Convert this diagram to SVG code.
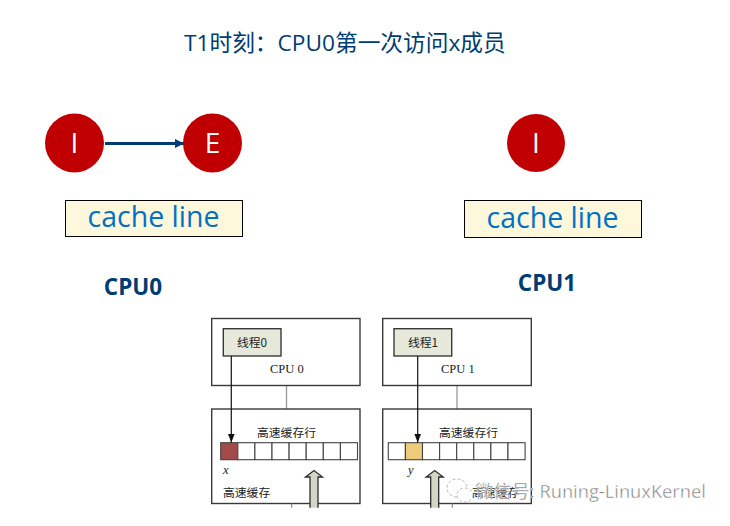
<svg xmlns="http://www.w3.org/2000/svg" width="730" height="526" viewBox="0 0 730 526">
<style>
.title{font-size:22.700px;fill:#003c71;font-family:"Open Sans","Noto Sans CJK SC",sans-serif}
.st{fill:#c00000}
.stt{fill:#fff;font-size:28px;text-anchor:middle;font-family:"Open Sans",sans-serif}
.cl{fill:#fdf7dc;stroke:#000;stroke-width:1}
.clt{fill:#0071c5;font-size:28.500px;text-anchor:middle;font-family:"Open Sans",sans-serif}
.cpu{fill:#003c71;font-size:22.500px;font-weight:700;text-anchor:middle;font-family:"Open Sans",sans-serif}
.box{fill:#fff;stroke:#3a3a3a;stroke-width:1.400}
.th{fill:#e6e9d9;stroke:#3a3a3a;stroke-width:1.400}
.cell{fill:#fff;stroke:#444;stroke-width:1.100}
.cn{font-family:"Noto Sans CJK SC",serif;font-size:11.800px;fill:#222}
.en{font-family:"Liberation Serif",serif;font-size:12.500px;fill:#222}
.up{fill:#d3d6c4;stroke:#2c2c2c;stroke-width:1.300}
.wm{font-family:"Open Sans","Noto Sans CJK SC",sans-serif;font-size:18.300px;fill:#808080;stroke:#fff;stroke-width:.4}
</style>
<defs>
<marker id="a1" markerWidth="10" markerHeight="10" refX="9" refY="5" orient="auto" markerUnits="userSpaceOnUse"><path d="M0 0.500L9 5L0 9.500Z" fill="#003c71"/></marker>
<marker id="a2" markerWidth="9" markerHeight="7" refX="9" refY="3.500" orient="auto" markerUnits="userSpaceOnUse"><path d="M0 0L9 3.500L0 7Z" fill="#111"/></marker>
<clipPath id="crop"><rect x="0" y="0" width="730" height="507.700"/></clipPath>
<path id="up" class="up" d="M-8.500 6.500L0 0L8.500 6.500H4V39H-4V6.500Z"/>
</defs>
<text id="title" class="title" x="184" y="51">T1时刻：CPU0第一次访问x成员</text>
<g id="connectors">
<line x1="105" y1="143.500" x2="184" y2="143.500" stroke="#003c71" stroke-width="3" marker-end="url(#a1)"/>
<line x1="286.500" y1="386" x2="286.500" y2="409" stroke="#999" stroke-width="1.300"/>
<line x1="457" y1="386" x2="457" y2="409" stroke="#999" stroke-width="1.300"/>
</g>
<g id="cpu0-state-i"><circle class="st" cx="74.500" cy="143" r="29.500"/><text class="stt" x="74.500" y="153">I</text></g>
<g id="cpu0-state-e"><circle class="st" cx="212.500" cy="143" r="29.500"/><text class="stt" x="212.500" y="153">E</text></g>
<g id="cpu1-state-i"><circle class="st" cx="536" cy="143" r="29"/><text class="stt" x="536" y="153">I</text></g>
<g id="cpu0-line"><rect class="cl" x="65.500" y="200.500" width="177" height="36"/><text class="clt" x="153.500" y="227">cache line</text></g>
<g id="cpu1-line"><rect class="cl" x="464.500" y="200.500" width="177" height="37"/><text class="clt" x="552.500" y="228">cache line</text></g>
<text id="cpu0-label" class="cpu" x="133" y="295">CPU0</text>
<text id="cpu1-label" class="cpu" x="547" y="291">CPU1</text>
<g id="cpu0-figure" clip-path="url(#crop)">
<rect class="box" x="211.700" y="318.500" width="148.300" height="67"/>
<rect class="box" x="211.700" y="409" width="148.300" height="94.500"/>
<rect class="th" x="223.300" y="328.700" width="57.700" height="27.300"/>
<text class="cn" x="237" y="347">线程0</text>
<text class="en" x="270" y="373">CPU 0</text>
<text class="cn" x="257" y="437">高速缓存行</text>
<text class="en" x="223" y="474" font-style="italic">x</text>
<text class="cn" x="223" y="497">高速缓存</text>
<rect class="cell" x="220.700" y="442.700" width="17.100" height="17" style="fill:#a34a4a"/>
<rect class="cell" x="237.800" y="442.700" width="17.100" height="17"/><rect class="cell" x="254.900" y="442.700" width="17.100" height="17"/><rect class="cell" x="272" y="442.700" width="17.100" height="17"/><rect class="cell" x="289.100" y="442.700" width="17.100" height="17"/><rect class="cell" x="306.200" y="442.700" width="17.100" height="17"/><rect class="cell" x="323.300" y="442.700" width="17.100" height="17"/><rect class="cell" x="340.400" y="442.700" width="17.100" height="17"/>
<line x1="231.300" y1="356" x2="231.300" y2="442.500" stroke="#111" stroke-width="1.200" marker-end="url(#a2)"/>
<use href="#up" x="314" y="470.500"/>
<line x1="291.700" y1="503.500" x2="291.700" y2="508" stroke="#777" stroke-width="1"/>
</g>
<g id="cpu1-figure" clip-path="url(#crop)">
<rect class="box" x="382.700" y="318.500" width="148.600" height="67"/>
<rect class="box" x="382.700" y="409" width="148.600" height="94.500"/>
<rect class="th" x="394" y="328.700" width="57.700" height="27.300"/>
<text class="cn" x="408" y="347">线程1</text>
<text class="en" x="441" y="373">CPU 1</text>
<text class="cn" x="439" y="437">高速缓存行</text>
<text class="en" x="408" y="474" font-style="italic">y</text>
<text class="cn" x="472" y="497">高速缓存</text>
<rect class="cell" x="388.300" y="442.700" width="17.100" height="17"/>
<rect class="cell" x="405.400" y="442.700" width="17.100" height="17" style="fill:#eccb7a"/>
<rect class="cell" x="422.500" y="442.700" width="17.100" height="17"/><rect class="cell" x="439.600" y="442.700" width="17.100" height="17"/><rect class="cell" x="456.700" y="442.700" width="17.100" height="17"/><rect class="cell" x="473.800" y="442.700" width="17.100" height="17"/><rect class="cell" x="490.900" y="442.700" width="17.100" height="17"/><rect class="cell" x="508" y="442.700" width="17.100" height="17"/>
<line x1="417.700" y1="356" x2="417.700" y2="442.500" stroke="#111" stroke-width="1.200" marker-end="url(#a2)"/>
<use href="#up" x="434.700" y="470.500"/>
<line x1="452.300" y1="503.500" x2="452.300" y2="508" stroke="#777" stroke-width="1"/>
</g>
<g id="watermark">
<ellipse cx="457" cy="488" rx="10" ry="9" fill="#fff" stroke="#aaa" stroke-width=".8" stroke-dasharray="3 2"/>
<ellipse cx="465" cy="495" rx="8" ry="7" fill="#fff" stroke="#aaa" stroke-width=".8" stroke-dasharray="3 2"/>
<text class="wm" x="475" y="498">微信号: Runing-LinuxKernel</text>
</g>
</svg>
